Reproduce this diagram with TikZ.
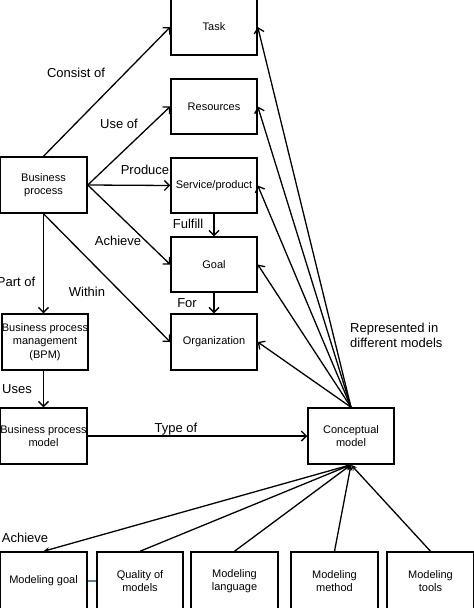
\documentclass[tikz,border=0pt]{standalone}
\usepackage{fontspec}
\setmainfont{Liberation Sans}
\usetikzlibrary{arrows.meta}
\definecolor{linkblue}{RGB}{90,125,175}
\tikzset{
  box/.style={draw, line width=1.5pt, minimum width=86pt, inner sep=0pt, align=center,
    font=\fontsize{11}{13.5}\selectfont},
  lbl/.style={font=\fontsize{13}{15}\selectfont, inner sep=0pt},
  arr/.style={line width=1.3pt, -{Straight Barb[length=5pt,width=10pt,line width=1.3pt]}},
  arrs/.style={line width=1.3pt, -{Stealth[length=6pt,width=5pt]}}
}
\begin{document}
\begin{tikzpicture}[x=1pt,y=-1pt]
\useasboundingbox (0,0) rectangle (474,608);
\clip (0,0) rectangle (474,608);
% boxes
\node[box, minimum height=56pt] (task) at (214,27) {Task};
\node[box, minimum height=55pt] (res) at (214,106.5) {Resources};
\node[box, minimum height=55pt] (serv) at (214,185.5) {Service/product};
\node[box, minimum height=55pt] (goal) at (214,264.5) {Goal};
\node[box, minimum height=56pt] (org) at (214,342) {Organization};
\node[box, minimum width=87pt, minimum height=56pt] (bp) at (43.5,185) {Business\\process};
\node[box, minimum height=56pt] (bpm) at (45,342) {Business process\\management\\(BPM)};
\node[box, minimum width=87pt, minimum height=56pt] (bpmod) at (43.5,436) {Business process\\model};
\node[box, minimum height=56pt] (cm) at (351,436) {Conceptual\\model};
\node[box, minimum width=87pt, minimum height=58pt] (mg) at (43.5,581) {Modeling goal};
\node[box, minimum height=58pt] (qm) at (140,581) {Quality of\\models};
\node[box, minimum width=87pt, minimum height=58pt] (ml) at (234.5,581) {Modeling\\language};
\node[box, minimum width=87pt, minimum height=58pt] (mm) at (334.5,581) {Modeling\\method};
\node[box, minimum width=87pt, minimum height=58pt] (mt) at (430.5,581) {Modeling\\tools};
% connectors from business process
\draw[arr] (bp.north) -- (task.west);
\draw[arr] (bp.east) -- (res.west);
\draw[arr] (bp.east) -- (serv.west);
\draw[arr] (bp.east) -- (goal.west);
\draw[arr] (bp.south) -- (org.west);
\draw[arr] (bp.south) -- (bp.south |- bpm.north);
\draw[arr] (serv.south) -- (goal.north);
\draw[arr] (goal.south) -- (org.north);
\draw[arr] (bpmod.north |- bpm.south) -- (bpmod.north);
\draw[arr] (bpmod.east) -- (cm.west);
% represented in different models
\draw[arr] (cm.north) -- (task.east);
\draw[arr] (cm.north) -- (res.east);
\draw[arr] (cm.north) -- (serv.east);
\draw[arr] (cm.north) -- (goal.east);
\draw[arr] (cm.north) -- (org.east);
% bottom row
\draw[arrs] (cm.south) -- (mg.north);
\draw[arrs] (qm.north) -- (cm.south);
\draw[arrs] (ml.north) -- (cm.south);
\draw[arrs] (mm.north) -- (cm.south);
\draw[arrs] (mt.north) -- (cm.south);
\draw[linkblue, line width=1.3pt] (mg.east) -- (qm.west);
% labels
\node[lbl] (l1) at (76,73) {Consist of};
\node[lbl] (l2) at (119,124) {Use of};
\node[lbl] (l3) at (145,170) {Produce};
\node[lbl] (l4) at (118,241) {Achieve};
\node[lbl] (l5) at (87,292) {Within};
\node[lbl] (l6) at (16,282) {Part of};
\node[lbl] (l7) at (188,224) {Fulfill};
\node[lbl] (l8) at (187,303) {For};
\node[lbl] (l9) at (17,389) {Uses};
\node[lbl] (l10) at (176,429) {Type of};
\node[lbl, align=left, anchor=west] (l11) at (350,335.5) {Represented in\\different models};
\node[lbl] (l12) at (25,538) {Achieve};
\end{tikzpicture}
\end{document}
